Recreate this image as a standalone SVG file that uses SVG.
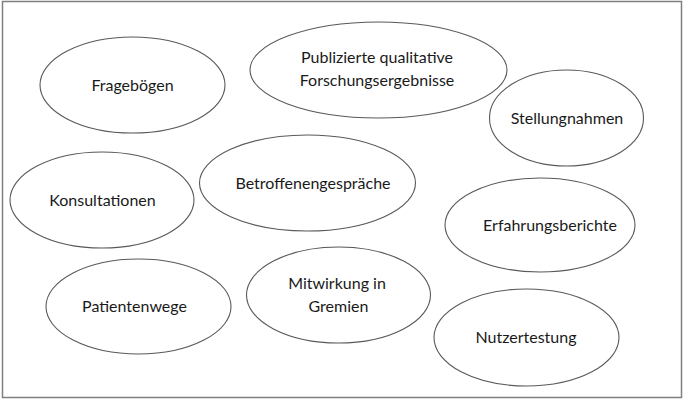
<svg xmlns="http://www.w3.org/2000/svg" width="685" height="401" viewBox="0 0 685 401">
<style>
.n ellipse{fill:#fff;stroke:#595959;stroke-width:1.1}
.n text{font-family:Lato,"Liberation Sans",Arial,sans-serif;font-size:16px;fill:#1a1a1a;text-anchor:middle}
</style>
<rect x="0" y="0" width="685" height="401" fill="#fff"/>
<rect x="2.5" y="1.5" width="679" height="396" fill="none" stroke="#7f7f7f" stroke-width="1.5"/>
<g id="fragebogen" class="n"><ellipse cx="132.5" cy="85" rx="92.5" ry="48"/><text x="132.5" y="91">Fragebögen</text></g>
<g id="publizierte" class="n"><ellipse cx="378.5" cy="70" rx="128.5" ry="48"/><text x="377" y="63">Publizierte qualitative</text><text x="377" y="86">Forschungsergebnisse</text></g>
<g id="stellungnahmen" class="n"><ellipse cx="566.5" cy="118" rx="77" ry="48"/><text x="567" y="124">Stellungnahmen</text></g>
<g id="konsultationen" class="n"><ellipse cx="102" cy="200" rx="92" ry="48"/><text x="102.5" y="206">Konsultationen</text></g>
<g id="betroffenengespraeche" class="n"><ellipse cx="307.5" cy="183" rx="108" ry="48"/><text x="313" y="189">Betroffenengespräche</text></g>
<g id="erfahrungsberichte" class="n"><ellipse cx="540" cy="225" rx="95" ry="47"/><text x="550" y="231">Erfahrungsberichte</text></g>
<g id="patientenwege" class="n"><ellipse cx="138.5" cy="306.5" rx="92.5" ry="47.5"/><text x="134.5" y="312">Patientenwege</text></g>
<g id="mitwirkung" class="n"><ellipse cx="338.5" cy="295" rx="92" ry="48"/><text x="337" y="289">Mitwirkung in</text><text x="338.5" y="312">Gremien</text></g>
<g id="nutzertestung" class="n"><ellipse cx="526.5" cy="337.5" rx="92.5" ry="48.5"/><text x="526" y="343">Nutzertestung</text></g>
<g id="connectors"/>
</svg>
